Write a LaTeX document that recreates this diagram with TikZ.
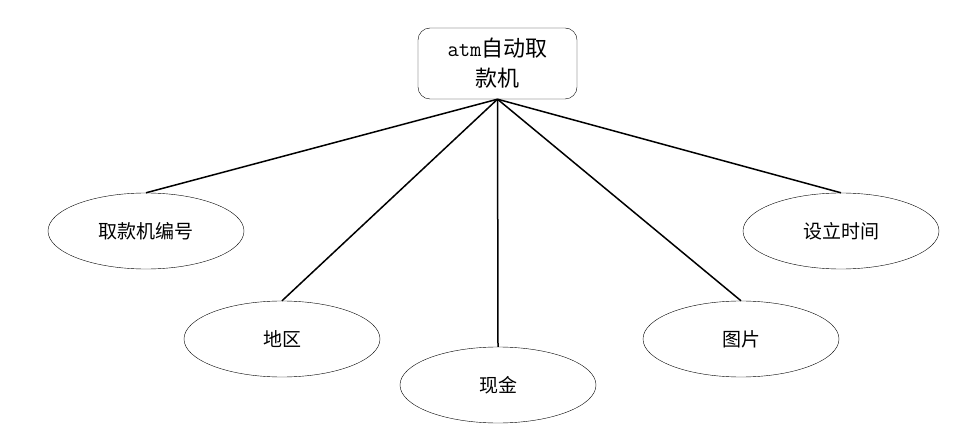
\documentclass[tikz,border=0pt]{standalone}
\usepackage{fontspec}
\newfontfamily\cjk{Noto Sans CJK SC}
\usetikzlibrary{shapes.geometric}
\begin{document}
\begin{tikzpicture}[x=1pt,y=-1pt,
 attr/.style={draw,ellipse,minimum width=196pt,minimum height=76pt,inner sep=0pt,font=\cjk\fontsize{19}{22}\selectfont},
 ent/.style={draw,rounded corners=12pt,minimum width=159pt,minimum height=71pt,align=center,font=\fontsize{22}{30}\selectfont},
 link/.style={line width=1.5pt}]
\useasboundingbox (0,0) rectangle (963,446);
\node[ent] (root) at (497.5,63.5) {\ttfamily atm{\cjk 自动取}\\{\cjk 款机}};
\node[attr] (a1) at (146,231) {取款机编号};
\node[attr] (a2) at (282,339) {地区};
\node[attr] (a3) at (498,385) {现金};
\node[attr] (a4) at (741,339) {图片};
\node[attr] (a5) at (841,231) {设立时间};
\foreach \n in {a1,a2,a3,a4,a5} \draw[link] (root.south) -- (\n.north);
\end{tikzpicture}
\end{document}
